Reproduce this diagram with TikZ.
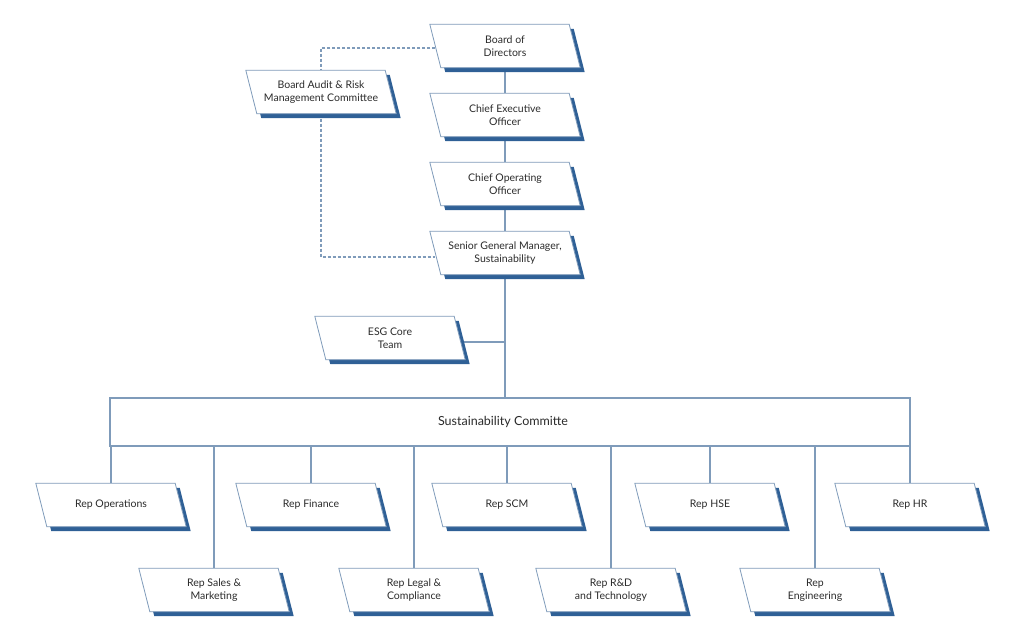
\documentclass[tikz,border=0pt]{standalone}
\usepackage{fontspec}
\setmainfont{Lato}
\usetikzlibrary{calc}

\definecolor{lineblue}{HTML}{7F9BBA}
\definecolor{shadowblue}{HTML}{2F6096}
\definecolor{textgray}{HTML}{2B2B2B}

\pgfdeclarelayer{lines}
\pgfdeclarelayer{boxes}
\pgfsetlayers{lines,boxes,main}

\tikzset{
  orgbox/.style={rectangle, minimum width=139pt, minimum height=43pt, inner sep=0pt, align=center,
    text=textgray, font=\fontsize{10.5}{12.5}\selectfont},
  link/.style={draw=lineblue, line width=1.1pt},
  dotlink/.style={draw=lineblue, line width=1.1pt, dash pattern=on 3pt off 2pt}
}

% slanted box with a dark drop shadow behind node #1
\newcommand\slantbox[1]{%
  \fill[shadowblue] ($(#1.north west)+(-1,-4.5)$) -- ($(#1.north east)+(-1,-4.5)$)
    -- ($(#1.south east)+(10,-4.5)$) -- ($(#1.south west)+(10,-4.5)$) -- cycle;
  \filldraw[fill=white, draw=lineblue, line width=0.8pt] ($(#1.north west)+(-5.5,0)$) -- ($(#1.north east)+(-5.5,0)$)
    -- ($(#1.south east)+(5.5,0)$) -- ($(#1.south west)+(5.5,0)$) -- cycle;
}

\begin{document}
\begin{tikzpicture}[x=1pt, y=1pt, node distance=69pt]
\useasboundingbox (0,0) rectangle (1024,-640);

\node (bod) [orgbox] at (505,-46) {Board of\\Directors};
\node (ceo) [orgbox, below of=bod] {Chief Executive\\Officer};
\node (coo) [orgbox, below of=ceo] {Chief Operating\\Officer};
\node (sgm) [orgbox, below of=coo] {Senior General Manager,\\Sustainability};

\node (audit) [orgbox] at (321,-92) {Board Audit \& Risk\\Management Committee};
\node (esg) [orgbox] at (390,-338) {ESG Core\\Team};

\node (comm) [rectangle, draw=lineblue, line width=1.1pt, fill=white, minimum width=800pt, minimum height=48pt,
  text=textgray, font=\fontsize{12.5}{15}\selectfont] at (510,-422) {\hspace*{-14pt}Sustainability Committe};

% first row
\node (ops) [orgbox] at (111,-505) {Rep Operations};
\node (fin) [orgbox] at (311,-505) {Rep Finance};
\node (scm) [orgbox] at (507,-505) {Rep SCM};
\node (hse) [orgbox] at (710,-505) {Rep HSE};
\node (hr) [orgbox] at (910,-505) {Rep HR};

% second row
\node (sales) [orgbox] at (214,-590) {Rep Sales \&\\Marketing};
\node (legal) [orgbox] at (414,-590) {Rep Legal \&\\Compliance};
\node (rnd) [orgbox] at (611,-590) {Rep R\&D\\and Technology};
\node (eng) [orgbox] at (815,-590) {Rep\\Engineering};

\begin{pgfonlayer}{boxes}
\foreach \n in {bod,ceo,coo,sgm,audit,esg,ops,fin,scm,hse,hr,sales,legal,rnd,eng}
  {\slantbox{\n}}
\end{pgfonlayer}

\begin{pgfonlayer}{lines}
\draw [link] (bod) -- (ceo) -- (coo) -- (sgm);
\draw [link] (sgm.south) -- (sgm.south |- comm.north);
\draw [link] ($(esg.east)+(0,-4)$) -- ($(esg.east -| sgm.south)+(0,-4)$);
\draw [dotlink] ($(bod.west)+(0,-2)$) -| (audit.north);
\draw [dotlink] (audit.south) |- ($(sgm.west)+(0,-4)$);
\foreach \rep in {ops,fin,scm,hse,hr,sales,legal,rnd,eng}
  \draw [link] (\rep.north) -- (\rep.north |- comm.south);
\end{pgfonlayer}

\end{tikzpicture}
\end{document}
